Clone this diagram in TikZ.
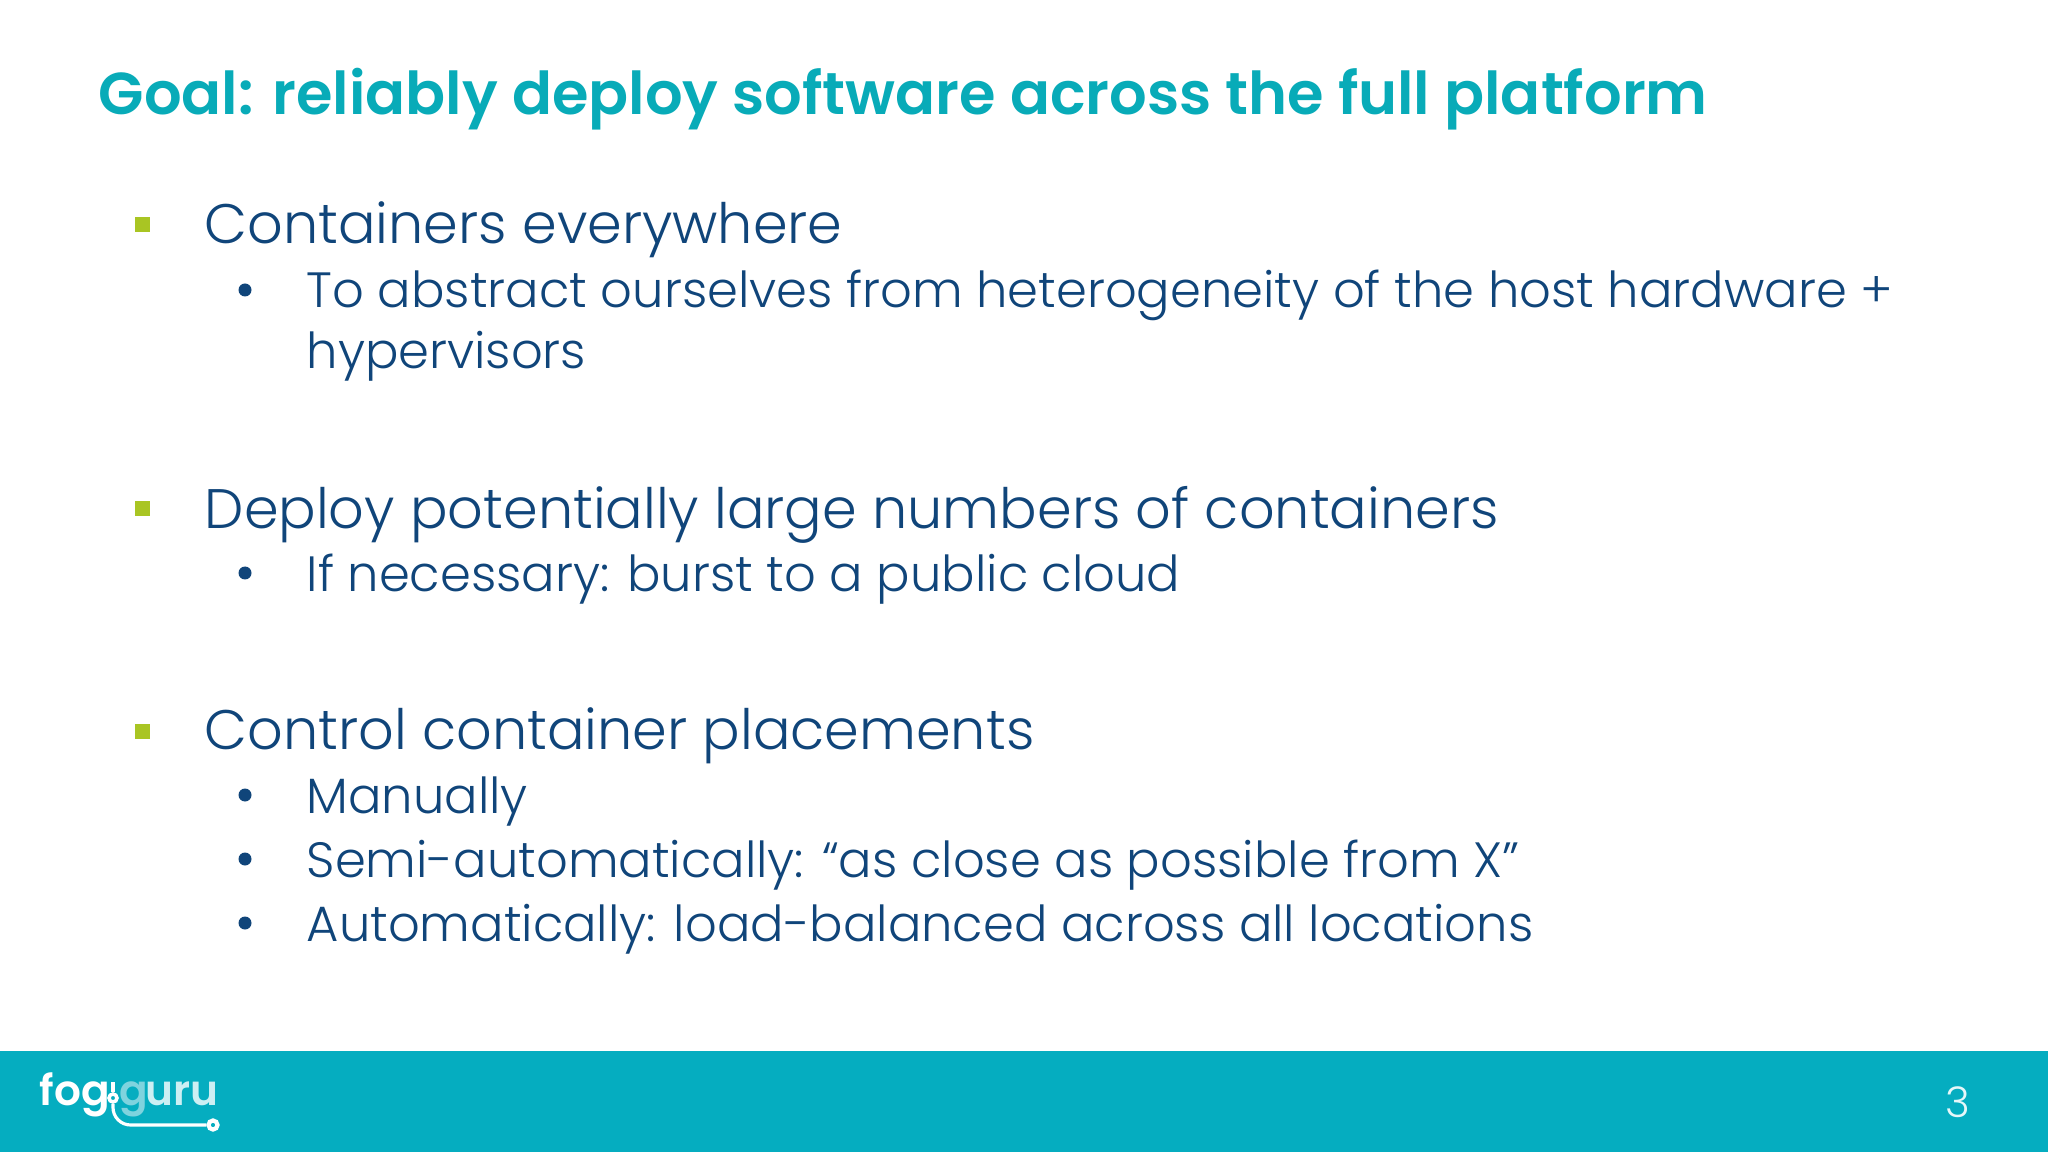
\documentclass[tikz,border=0pt]{standalone}
\usepackage{fontspec}
\setmainfont{Poppins}[UprightFont=* Light,BoldFont=* SemiBold]
\definecolor{titleteal}{HTML}{08ABB8}
\definecolor{bannerteal}{HTML}{05ADC0}
\definecolor{bodyblue}{HTML}{10457A}
\definecolor{squaregreen}{HTML}{A9C523}
\definecolor{logolight}{HTML}{7FD3DE}
\tikzset{
  headline/.style={anchor=base west,inner sep=0pt,text=titleteal,font=\fontsize{16.8}{17}\selectfont\bfseries},
  itemone/.style={anchor=base west,inner sep=0pt,text=bodyblue,font=\fontsize{15.83}{16}\selectfont},
  itemtwo/.style={anchor=base west,inner sep=0pt,text=bodyblue,font=\fontsize{14.1}{14}\selectfont},
  marksquare/.style={fill=squaregreen,inner sep=0pt,minimum size=15*0.01cm},
  markdot/.style={circle,fill=bodyblue,inner sep=0pt,minimum size=13*0.01cm},
  logotext/.style={anchor=base west,inner sep=0pt,text=white,font=\fontsize{12}{12}\selectfont\bfseries},
}
\begin{document}
\begin{tikzpicture}[x=0.01cm,y=-0.01cm]
  \useasboundingbox (0,0) rectangle (2048,1152);
  \fill[white] (0,0) rectangle (2048,1152);
  \fill[bannerteal] (0,1051) rectangle (2048,1152);
  \node[headline] (title) at (98,115) {Goal: reliably deploy software across the full platform};
  % first block
  \node[marksquare] (sqa) at (142,225) {};
  \node[itemone] (conta) at (204,244) {Containers everywhere};
  \node[markdot] (dota) at (245,290) {};
  \node[itemtwo] (absa) at (306,308) {To abstract ourselves from heterogeneity of the host hardware +};
  \node[itemtwo] (absb) at (306,369) {hypervisors};
  % second block
  \node[marksquare] (sqb) at (142,509) {};
  \node[itemone] (depl) at (204,528) {Deploy potentially large numbers of containers};
  \node[markdot] (dotb) at (245,573) {};
  \node[itemtwo] (burst) at (306,591) {If necessary: burst to a public cloud};
  % third block
  \node[marksquare] (sqc) at (142,731) {};
  \node[itemone] (ctrl) at (204,749) {Control container placements};
  \node[markdot] (dotc) at (245,795) {};
  \node[itemtwo] (manu) at (306,813) {Manually};
  \node[markdot] (dotd) at (245,859) {};
  \node[itemtwo] (semi) at (306,877) {Semi-automatically: “as close as possible from X”};
  \node[markdot] (dote) at (245,923) {};
  \node[itemtwo] (auto) at (306,941) {Automatically: load-balanced across all locations};
  % footer
  \node[logotext] (fog) at (39,1105) {fog};
  \node[logotext,text=logolight] (gmid) at (119,1105) {g};
  \node[logotext,text=white!80!bannerteal] (uru) at (145,1105) {uru};
  \coordinate (tracetop) at (113,1082);
  \node[circle,draw=white,line width=1pt,fill=bannerteal,inner sep=0pt,minimum size=8*0.01cm] (pina) at (113,1098) {};
  \node[circle,draw=white,line width=1.2pt,fill=bannerteal,inner sep=0pt,minimum size=9*0.01cm] (pinb) at (213,1125) {};
  \draw[white,line width=0.9pt] (tracetop) -- (pina);
  \draw[white,line width=0.9pt,rounded corners=5pt] (pina) |- (pinb);
  \node[anchor=base,inner sep=0pt,text=white!90!bannerteal,font=\fontsize{12}{12}\selectfont] (pagenum) at (1958,1117) {3};
\end{tikzpicture}
\end{document}
